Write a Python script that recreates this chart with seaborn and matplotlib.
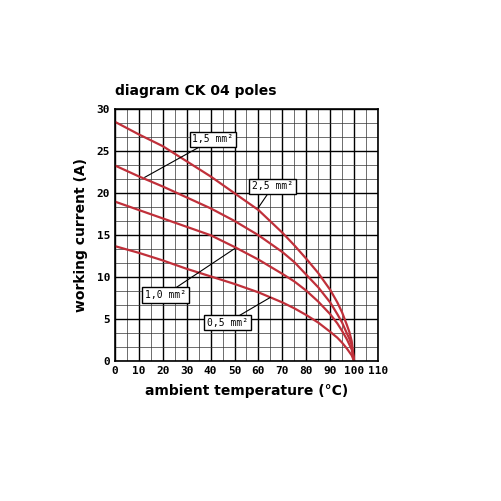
import numpy as np
import matplotlib
matplotlib.use("Agg")
import matplotlib.pyplot as plt
import seaborn as sns
import pandas as pd

temps = [0, 10, 20, 30, 40, 50, 60, 70, 75, 80, 85, 90, 93, 95, 97, 98, 99, 100]
c25 = [28.5, 27.0, 25.6, 23.8, 22.0, 20.0, 18.0, 15.3, 13.8, 12.2, 10.5, 8.5, 7.0, 5.8, 4.3, 3.5, 2.4, 0.0]
c15 = [23.3, 22.0, 20.8, 19.5, 18.2, 16.7, 15.0, 13.0, 11.8, 10.3, 8.8, 7.0, 5.6, 4.6, 3.3, 2.7, 1.9, 0.0]
c10 = [19.0, 18.0, 17.0, 16.0, 15.0, 13.6, 12.1, 10.4, 9.5, 8.4, 7.1, 5.6, 4.5, 3.6, 2.6, 2.0, 1.4, 0.0]
c05 = [13.7, 12.9, 12.0, 11.0, 10.1, 9.2, 8.2, 7.0, 6.3, 5.5, 4.6, 3.5, 2.8, 2.2, 1.5, 1.1, 0.7, 0.0]
labels = ["2,5 mm²", "1,5 mm²", "1,0 mm²", "0,5 mm²"]
label_pos = [(66, 20.8), (41, 26.4), (21, 7.9), (47, 4.6)]
leader_to = [(60, 18.3), (12.5, 21.9), (50, 13.4), (65, 7.6)]

rows = []
for lab, vals in zip(labels, [c25, c15, c10, c05]):
    for t, v in zip(temps, vals):
        rows.append({"t": t, "I": v, "s": lab})
df = pd.DataFrame(rows)

fig = plt.figure(figsize=(5.02, 5.01), dpi=100)
ax = fig.add_axes([0.229, 0.279, 0.524, 0.503])
sns.lineplot(data=df, x="t", y="I", units="s", estimator=None, color="#c0303a",
             lw=1.6, ax=ax, legend=False)
ax.set_xlim(0, 110)
ax.set_ylim(0, 30)
ax.set_xticks(range(0, 111, 10))
ax.set_yticks(range(0, 31, 5))
ax.set_xticks(np.arange(0, 111, 5), minor=True)
ax.set_yticks(np.arange(0, 30.1, 5 / 3), minor=True)
ax.grid(which="major", color="black", lw=1.0)
ax.grid(which="minor", color="#333333", lw=0.5)
ax.set_axisbelow(True)
for s in ax.spines.values():
    s.set_linewidth(1.2)
ax.tick_params(which="both", length=0, labelsize=8)
for t in ax.get_xticklabels() + ax.get_yticklabels():
    t.set_fontfamily("DejaVu Sans Mono")
    t.set_fontweight("bold")
ax.set_xlabel("ambient temperature (°C)", fontsize=10, fontweight="bold", labelpad=6)
ax.set_ylabel("working current (A)", fontsize=10, fontweight="bold", labelpad=6)
ax.set_title("diagram CK 04 poles", loc="left", fontsize=10, fontweight="bold", x=0.0, pad=10)

for lab, (bx, by), (lx, ly) in zip(labels, label_pos, leader_to):
    ax.plot([lx, bx], [ly, by], color="black", lw=0.8)
    ax.text(bx, by, lab, ha="center", va="center", fontsize=7,
            fontfamily="DejaVu Sans Mono",
            bbox=dict(boxstyle="square,pad=0.3", fc="white", ec="black", lw=1))

fig.savefig("out.png", dpi=100)
